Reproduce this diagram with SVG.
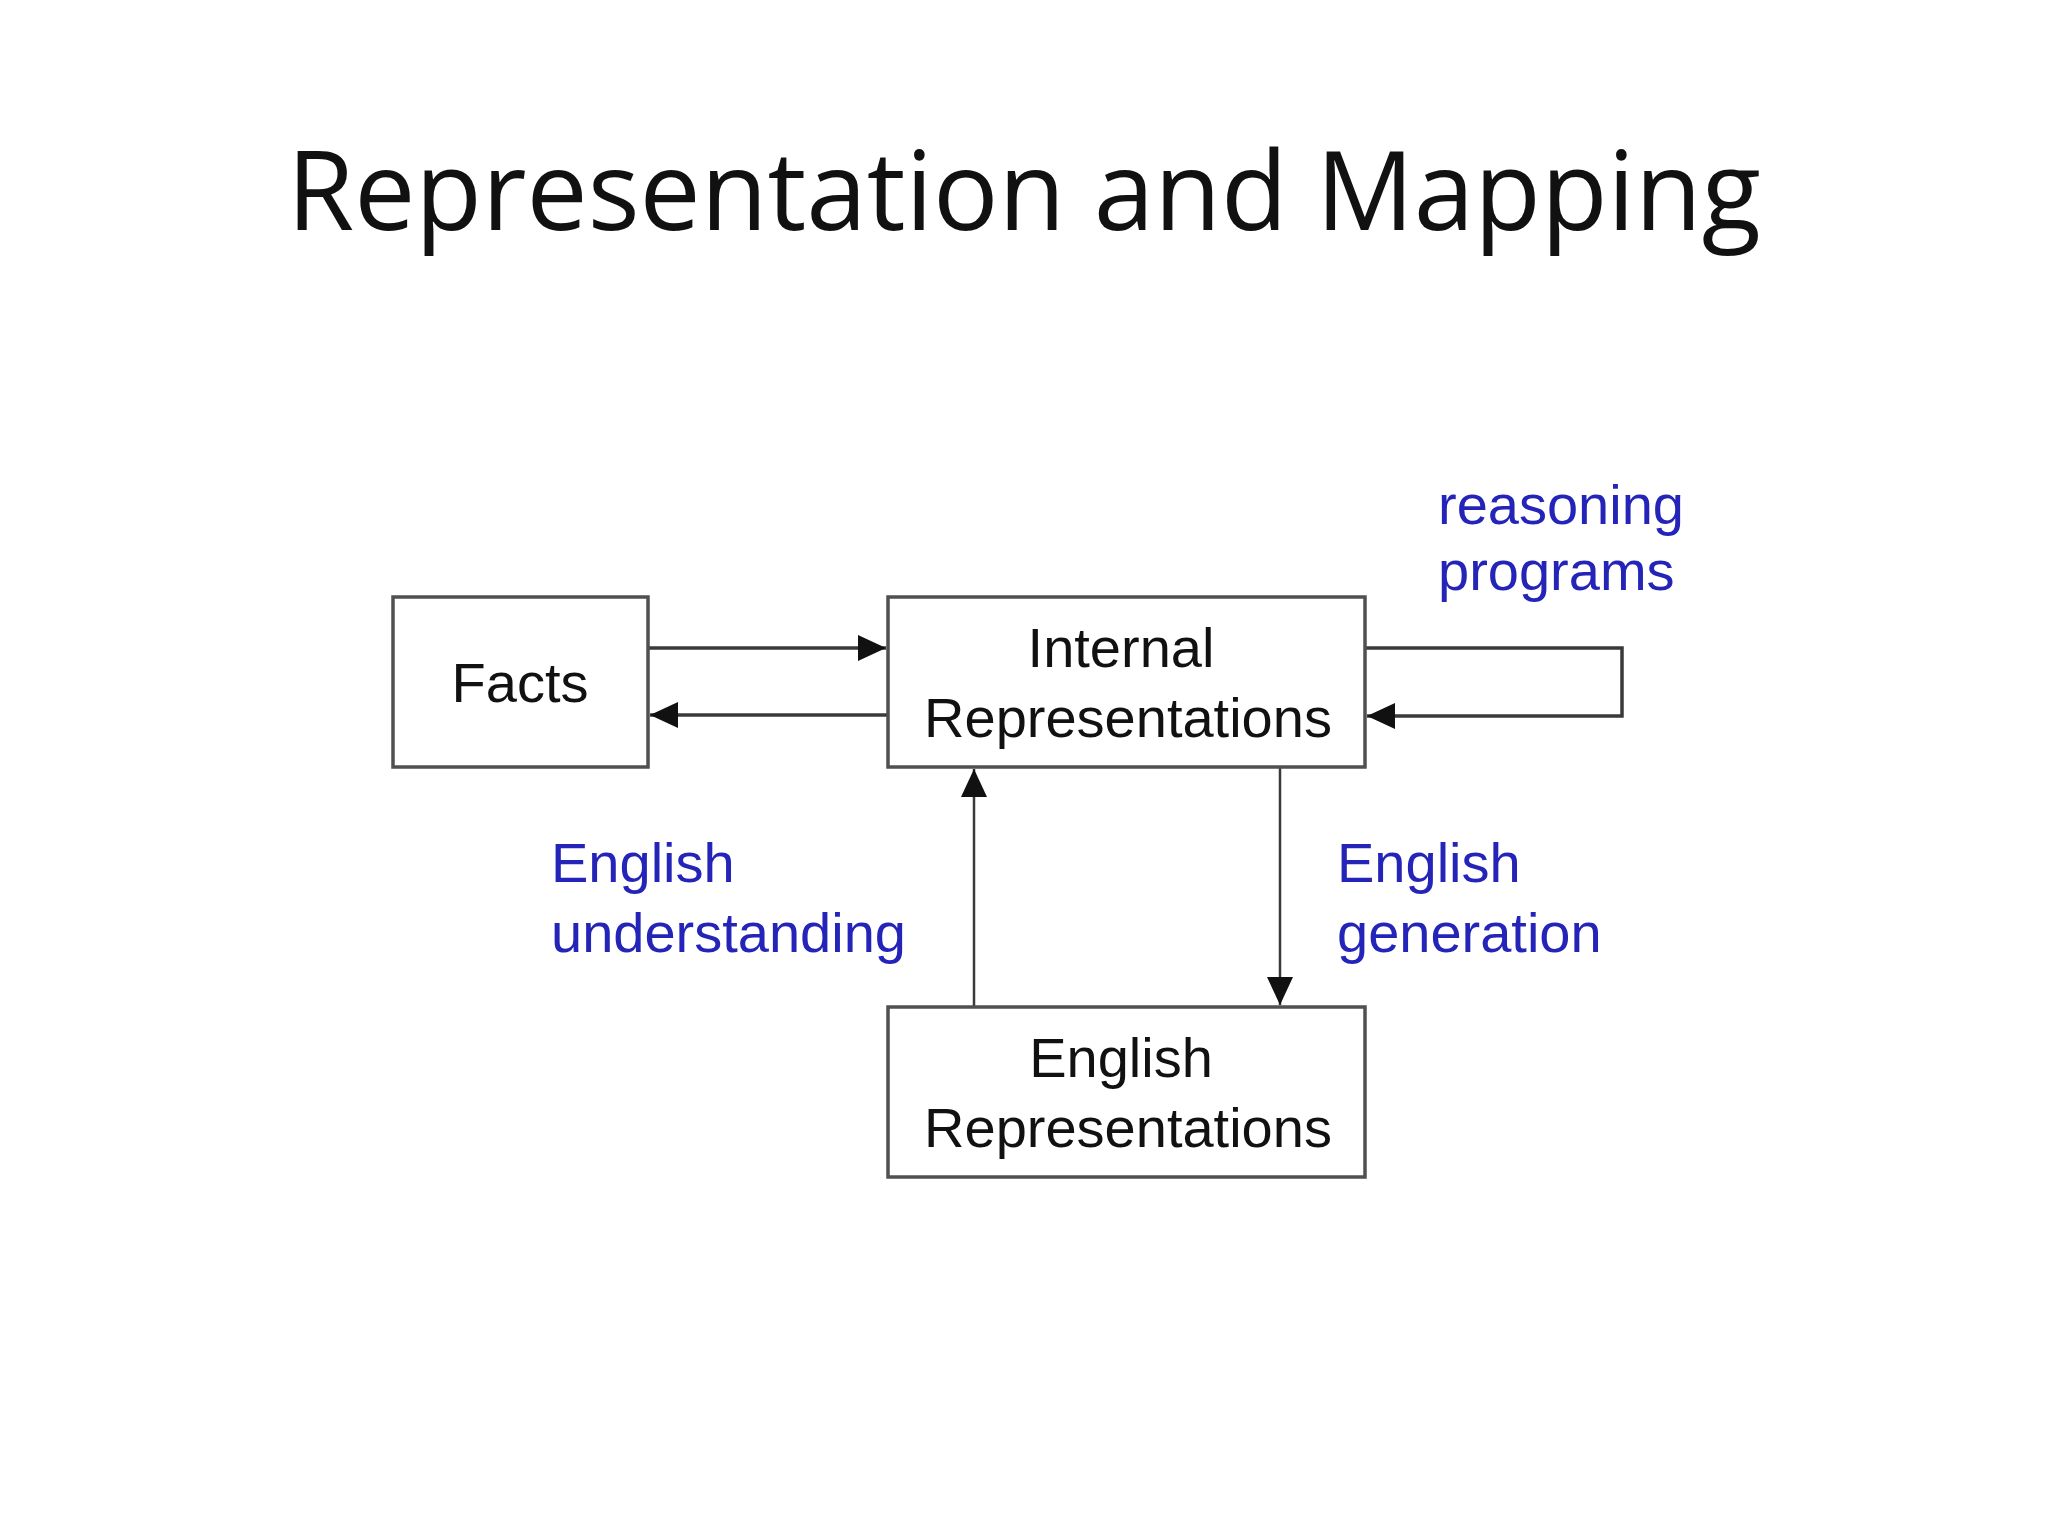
<svg xmlns="http://www.w3.org/2000/svg" width="2048" height="1535" viewBox="0 0 2048 1535">
<style>
.box{fill:#ffffff;stroke:#505050;stroke-width:3.5}
.lbl{font-family:"Liberation Sans",Arial,sans-serif;font-size:56px;fill:#111111;text-anchor:middle}
.blue{font-family:"Liberation Sans",Arial,sans-serif;font-size:56px;fill:#2424b8}
.conn{fill:none;stroke:#3a3a3a;stroke-width:3.5}
.thin{fill:none;stroke:#3a3a3a;stroke-width:2.5}
.title{font-family:"Open Sans","Lato",sans-serif;font-size:110px;fill:#111111;text-anchor:middle}
</style>
<defs>
<marker id="ah" markerUnits="userSpaceOnUse" markerWidth="30" markerHeight="26" refX="28" refY="13" orient="auto">
<path d="M0,0 L28,13 L0,26 Z" fill="#111111"/>
</marker>
</defs>
<rect width="2048" height="1535" fill="#ffffff"/>
<text class="title" x="1024" y="230" textLength="1474" lengthAdjust="spacingAndGlyphs">Representation and Mapping</text>
<g id="connectors">
<path class="conn" d="M648,648 L886,648" marker-end="url(#ah)"/>
<path class="conn" d="M888,715 L650,715" marker-end="url(#ah)"/>
<path class="conn" d="M1365,648 L1622,648 L1622,716 L1367,716" marker-end="url(#ah)"/>
<path class="thin" d="M974,1007 L974,769" marker-end="url(#ah)"/>
<path class="thin" d="M1280,767 L1280,1005" marker-end="url(#ah)"/>
</g>
<g id="facts">
<rect class="box" x="393" y="597" width="255" height="170"/>
<text class="lbl" x="520" y="702">Facts</text>
</g>
<g id="internal">
<rect class="box" x="888" y="597" width="477" height="170"/>
<text class="lbl" x="1121" y="667">Internal</text>
<text class="lbl" x="1128" y="737">Representations</text>
</g>
<g id="english">
<rect class="box" x="888" y="1007" width="477" height="170"/>
<text class="lbl" x="1121" y="1077">English</text>
<text class="lbl" x="1128" y="1147">Representations</text>
</g>
<g id="labels">
<text class="blue" x="1438" y="524">reasoning</text>
<text class="blue" x="1438" y="590">programs</text>
<text class="blue" x="551" y="882">English</text>
<text class="blue" x="551" y="952">understanding</text>
<text class="blue" x="1337" y="882">English</text>
<text class="blue" x="1337" y="952">generation</text>
</g>
</svg>
